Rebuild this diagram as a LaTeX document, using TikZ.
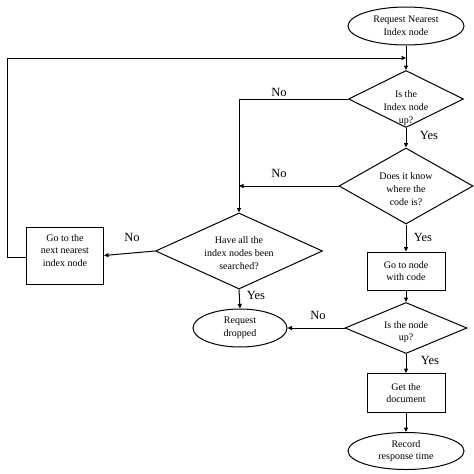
\documentclass[tikz,border=0pt]{standalone}
\usepackage{fontspec}
\setmainfont{Liberation Serif}
\usetikzlibrary{shapes.geometric,arrows.meta}
\begin{document}
\begin{tikzpicture}[x=1pt,y=-1pt,
  line width=1pt,
  txt/.style={font=\fontsize{10}{12.8}\selectfont,align=center},
  term/.style={ellipse,draw,inner sep=0pt,txt},
  dec/.style={diamond,draw,inner sep=0pt},
  proc/.style={rectangle,draw,inner sep=0pt,txt},
  lbl/.style={font=\fontsize{12.5}{14}\selectfont,inner sep=0pt},
  arr/.style={-{Triangle[length=4.5pt,width=4pt]}}
]
\useasboundingbox[fill=white] (0,0) rectangle (474,474);

\node[term,minimum width=116pt,minimum height=38pt] (start) at (406,26) {Request Nearest\\Index node};
\node[dec,minimum width=115pt,minimum height=57pt,
  label={[txt,yshift=-9pt]center:{Is the\\Index node\\up?}}] (d1) at (406,99) {};
\node[dec,minimum width=134pt,minimum height=76pt,
  label={[txt,yshift=-3pt]center:{Does it know\\where the\\code is?}}] (d2) at (406,186) {};
\node[proc,minimum width=78pt,minimum height=38pt] (p1) at (406,271) {Go to node\\with code};
\node[dec,minimum width=122pt,minimum height=51pt,
  label={[txt,yshift=-4pt]center:{Is the node\\up?}}] (d4) at (406,328) {};
\node[proc,minimum width=78pt,minimum height=39pt] (p2) at (406,393) {Get the\\document};
\node[term,minimum width=116pt,minimum height=37pt] (rec) at (406,451) {Record\\response time};
\node[dec,minimum width=167pt,minimum height=76pt,
  label={[txt,yshift=-2pt]center:{Have all the\\index nodes been\\searched?}}] (d3) at (239,251) {};
\node[term,minimum width=94pt,minimum height=38pt] (drop) at (240,328) {Request\\dropped};
\node[proc,minimum width=77pt,minimum height=57pt,
  label={[txt,yshift=5pt]center:{Go to the\\next nearest\\index node}}] (b1) at (65,255.5) {};

\coordinate (j) at (406,58);
\coordinate (lc) at (7,257);

\draw[arr] (start.south) -- (d1.north);
\draw[arr] (b1.west |- lc) -- (lc) |- (j);
\draw[arr] (d1.west) -| (d3.north);
\draw[arr] (d2.west) -- (d2.west -| d3.north);
\draw[arr] (d1.south) -- (d2.north);
\draw[arr] (d2.south) -- (p1.north);
\draw[arr] (p1.south) -- (d4.north);
\draw[arr] (d4.west) -- (drop.east);
\draw[arr] (d4.south) -- (p2.north);
\draw[arr] (p2.south) -- (rec.north);
\draw[arr] (d3.south) -- (drop.north);
\draw[arr] (d3.west) -- (b1.east);

\node[lbl] (n1) at (279,92) {No};
\node[lbl] (n2) at (279,173) {No};
\node[lbl] (n3) at (132,237) {No};
\node[lbl] (n4) at (318,315) {No};
\node[lbl] (y1) at (429,135) {Yes};
\node[lbl] (y2) at (423,237) {Yes};
\node[lbl] (y3) at (256,295) {Yes};
\node[lbl] (y4) at (430,360) {Yes};
\end{tikzpicture}
\end{document}
